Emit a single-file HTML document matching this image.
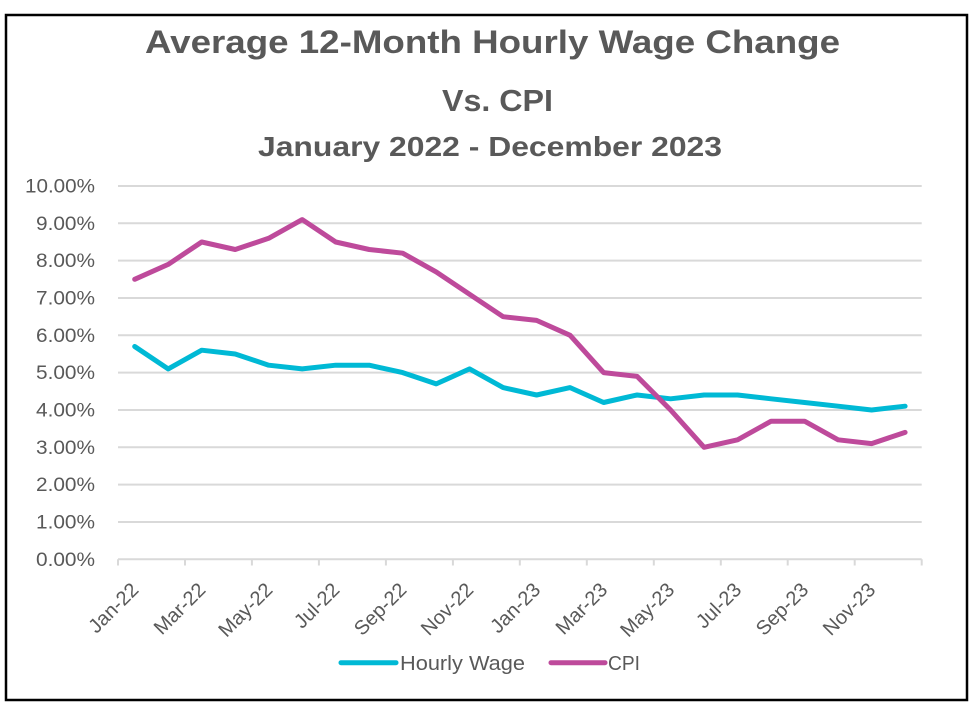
<!DOCTYPE html>
<html>
<head>
<meta charset="utf-8">
<style>
html,body{margin:0;padding:0;background:#fff;}
svg{display:block;}
text{font-family:"Liberation Sans",sans-serif;fill:#595959;}
</style>
</head>
<body>
<svg width="980" height="706" viewBox="0 0 980 706" xmlns="http://www.w3.org/2000/svg">
<rect x="0" y="0" width="980" height="706" fill="#fff"/>
<rect x="6" y="15" width="961" height="685" fill="none" stroke="#000" stroke-width="2.5"/>

<!-- Titles -->
<text x="492.5" y="53" font-size="32" font-weight="bold" text-anchor="middle" textLength="695" lengthAdjust="spacingAndGlyphs">Average 12-Month Hourly Wage Change</text>
<text x="497.5" y="111" font-size="31" font-weight="bold" text-anchor="middle" textLength="111" lengthAdjust="spacingAndGlyphs">Vs. CPI</text>
<text x="490" y="156" font-size="28" font-weight="bold" text-anchor="middle" textLength="464" lengthAdjust="spacingAndGlyphs">January 2022 - December 2023</text>

<!-- Gridlines -->
<g stroke="#D9D9D9" stroke-width="2">
<line x1="118" y1="186" x2="921.7" y2="186"/>
<line x1="118" y1="223.3" x2="921.7" y2="223.3"/>
<line x1="118" y1="260.6" x2="921.7" y2="260.6"/>
<line x1="118" y1="298" x2="921.7" y2="298"/>
<line x1="118" y1="335.3" x2="921.7" y2="335.3"/>
<line x1="118" y1="372.6" x2="921.7" y2="372.6"/>
<line x1="118" y1="410" x2="921.7" y2="410"/>
<line x1="118" y1="447.3" x2="921.7" y2="447.3"/>
<line x1="118" y1="484.6" x2="921.7" y2="484.6"/>
<line x1="118" y1="522" x2="921.7" y2="522"/>
<line x1="118" y1="559.3" x2="921.7" y2="559.3"/>
<!-- ticks -->
<line x1="118" y1="559.3" x2="118" y2="565.5"/>
<line x1="185" y1="559.3" x2="185" y2="565.5"/>
<line x1="251.9" y1="559.3" x2="251.9" y2="565.5"/>
<line x1="318.9" y1="559.3" x2="318.9" y2="565.5"/>
<line x1="385.9" y1="559.3" x2="385.9" y2="565.5"/>
<line x1="452.9" y1="559.3" x2="452.9" y2="565.5"/>
<line x1="519.8" y1="559.3" x2="519.8" y2="565.5"/>
<line x1="586.8" y1="559.3" x2="586.8" y2="565.5"/>
<line x1="653.8" y1="559.3" x2="653.8" y2="565.5"/>
<line x1="720.8" y1="559.3" x2="720.8" y2="565.5"/>
<line x1="787.7" y1="559.3" x2="787.7" y2="565.5"/>
<line x1="854.7" y1="559.3" x2="854.7" y2="565.5"/>
<line x1="921.7" y1="559.3" x2="921.7" y2="565.5"/>
</g>

<!-- Y labels -->
<g font-size="19" text-anchor="end">
<text x="95" y="192.5" textLength="70" lengthAdjust="spacingAndGlyphs">10.00%</text>
<text x="95" y="229.8" textLength="59" lengthAdjust="spacingAndGlyphs">9.00%</text>
<text x="95" y="267.1" textLength="59" lengthAdjust="spacingAndGlyphs">8.00%</text>
<text x="95" y="304.5" textLength="59" lengthAdjust="spacingAndGlyphs">7.00%</text>
<text x="95" y="341.8" textLength="59" lengthAdjust="spacingAndGlyphs">6.00%</text>
<text x="95" y="379.1" textLength="59" lengthAdjust="spacingAndGlyphs">5.00%</text>
<text x="95" y="416.5" textLength="59" lengthAdjust="spacingAndGlyphs">4.00%</text>
<text x="95" y="453.8" textLength="59" lengthAdjust="spacingAndGlyphs">3.00%</text>
<text x="95" y="491.1" textLength="59" lengthAdjust="spacingAndGlyphs">2.00%</text>
<text x="95" y="528.5" textLength="59" lengthAdjust="spacingAndGlyphs">1.00%</text>
<text x="95" y="565.8" textLength="59" lengthAdjust="spacingAndGlyphs">0.00%</text>
</g>

<!-- X labels -->
<g font-size="20" text-anchor="end">
<text transform="translate(139.7,591) rotate(-45)">Jan-22</text>
<text transform="translate(206.7,591) rotate(-45)">Mar-22</text>
<text transform="translate(273.7,591) rotate(-45)">May-22</text>
<text transform="translate(340.7,591) rotate(-45)">Jul-22</text>
<text transform="translate(407.7,591) rotate(-45)">Sep-22</text>
<text transform="translate(474.6,591) rotate(-45)">Nov-22</text>
<text transform="translate(541.6,591) rotate(-45)">Jan-23</text>
<text transform="translate(608.6,591) rotate(-45)">Mar-23</text>
<text transform="translate(675.6,591) rotate(-45)">May-23</text>
<text transform="translate(742.6,591) rotate(-45)">Jul-23</text>
<text transform="translate(809.6,591) rotate(-45)">Sep-23</text>
<text transform="translate(876.6,591) rotate(-45)">Nov-23</text>
</g>

<!-- Series -->
<polyline fill="none" stroke="#00B9D5" stroke-width="5" stroke-linejoin="round" stroke-linecap="round"
points="134.7,346.5 168.2,368.9 201.7,350.2 235.2,354.0 268.7,365.2 302.2,368.9 335.7,365.2 369.2,365.2 402.7,372.6 436.2,383.9 469.6,368.9 503.1,387.6 536.6,395.0 570.1,387.6 603.6,402.5 637.1,395.0 670.6,398.8 704.1,395.0 737.6,395.0 771.1,398.8 804.6,402.5 838.1,406.2 871.6,410.0 905.1,406.2"/>
<polyline fill="none" stroke="#BE4A9B" stroke-width="5" stroke-linejoin="round" stroke-linecap="round"
points="134.7,279.3 168.2,264.4 201.7,242.0 235.2,249.5 268.7,238.3 302.2,219.6 335.7,242.0 369.2,249.5 402.7,253.2 436.2,271.9 469.6,294.3 503.1,316.7 536.6,320.4 570.1,335.3 603.6,372.6 637.1,376.4 670.6,410.0 704.1,447.3 737.6,439.8 771.1,421.2 804.6,421.2 838.1,439.8 871.6,443.6 905.1,432.4"/>

<!-- Legend -->
<line x1="341" y1="662.7" x2="396" y2="662.7" stroke="#00B9D5" stroke-width="5" stroke-linecap="round"/>
<text x="400" y="670" font-size="20" textLength="125" lengthAdjust="spacingAndGlyphs">Hourly Wage</text>
<line x1="551" y1="662.7" x2="605" y2="662.7" stroke="#BE4A9B" stroke-width="5" stroke-linecap="round"/>
<text x="608" y="670" font-size="20" textLength="32" lengthAdjust="spacingAndGlyphs">CPI</text>
</svg>
</body>
</html>
